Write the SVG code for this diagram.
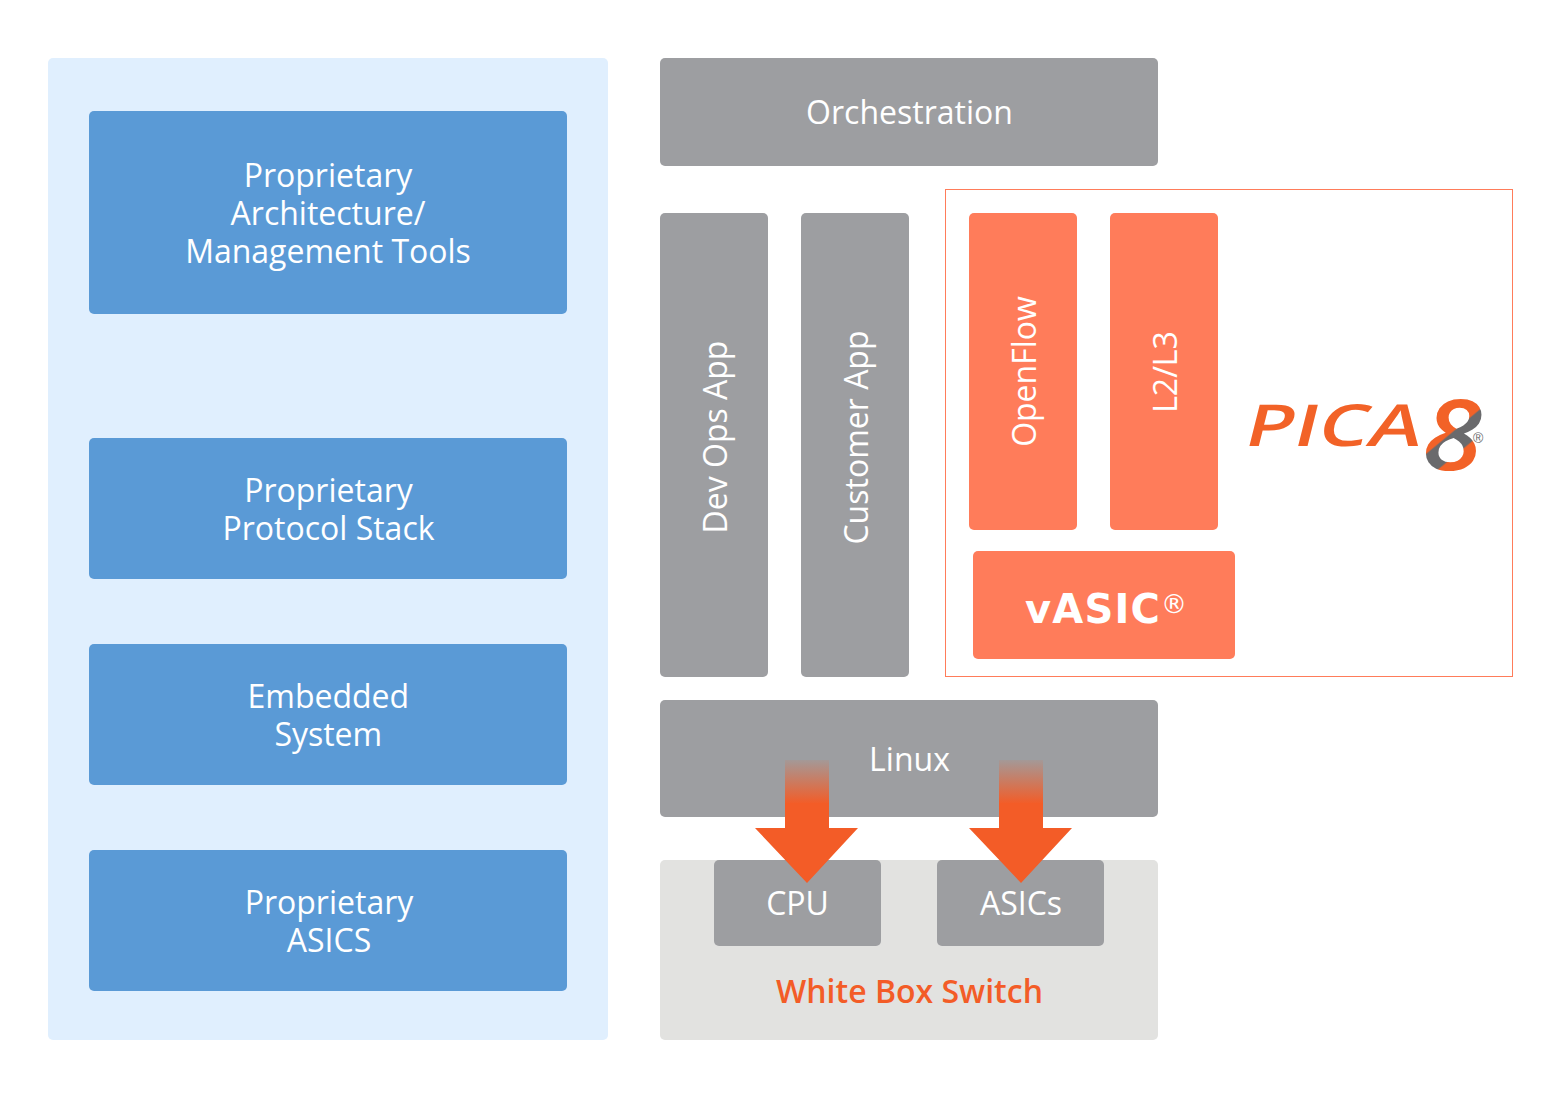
<svg xmlns="http://www.w3.org/2000/svg" width="1560" height="1099" viewBox="0 0 1560 1099">
<style>
.t{font-family:"Open Sans","Liberation Sans",sans-serif;font-size:32px;fill:#fff;text-anchor:middle}
.blue{fill:#5a9ad6}.gray{fill:#9d9ea1}.org{fill:#ff7c5a}
</style>
<defs>
<linearGradient id="fade" x1="0" y1="0" x2="0" y2="1"><stop offset="0" stop-color="#f35c27" stop-opacity="0.08"/><stop offset="1" stop-color="#f35c27"/></linearGradient>
<linearGradient id="eight" gradientUnits="userSpaceOnUse" x1="1428" y1="411" x2="1480" y2="474"><stop offset="0.38" stop-color="#f26227"/><stop offset="0.4" stop-color="#6a6a6c"/><stop offset="0.62" stop-color="#6a6a6c"/><stop offset="0.64" stop-color="#f26227"/></linearGradient>
</defs>
<rect width="1560" height="1099" fill="#fff"/>
<g id="legacy-panel"><rect x="48" y="58" width="560" height="982" rx="5" fill="#e0effe"/></g>
<g id="prop-tools"><rect class="blue" x="89" y="111" width="478" height="203" rx="5"/><text class="t" x="328" y="187">Proprietary</text><text class="t" x="328" y="225">Architecture/</text><text class="t" x="328" y="263">Management Tools</text></g>
<g id="prop-stack"><rect class="blue" x="89" y="438" width="478" height="141" rx="5"/><text class="t" x="328.5" y="502">Proprietary</text><text class="t" x="328.5" y="540">Protocol Stack</text></g>
<g id="embedded"><rect class="blue" x="89" y="644" width="478" height="141" rx="5"/><text class="t" x="328.3" y="708">Embedded</text><text class="t" x="328.3" y="746">System</text></g>
<g id="prop-asics"><rect class="blue" x="89" y="850" width="478" height="141" rx="5"/><text class="t" x="329" y="914">Proprietary</text><text class="t" x="329" y="952">ASICS</text></g>
<g id="orchestration"><rect class="gray" x="660" y="58" width="498" height="108" rx="5"/><text class="t" x="909.5" y="124">Orchestration</text></g>
<g id="devops"><rect class="gray" x="660" y="213" width="108" height="464" rx="5"/><text class="t" transform="translate(727 437) rotate(-90)">Dev Ops App</text></g>
<g id="customer"><rect class="gray" x="801" y="213" width="108" height="464" rx="5"/><text class="t" transform="translate(868 437.500) rotate(-90)">Customer App</text></g>
<g id="pica8-box"><rect x="945.5" y="189.5" width="567" height="487" fill="#fff" stroke="#ff7c5a"/></g>
<g id="openflow"><rect class="org" x="969" y="213" width="108" height="317" rx="5"/><text class="t" transform="translate(1035.500 371.500) rotate(-90)">OpenFlow</text></g>
<g id="l2l3"><rect class="org" x="1110" y="213" width="108" height="317" rx="5"/><text class="t" transform="translate(1176.500 372) rotate(-90)">L2/L3</text></g>
<g id="vasic"><rect class="org" x="973" y="551" width="262" height="108" rx="5"/><text x="1025" y="623" font-family="'DejaVu Sans',sans-serif" font-weight="700" font-size="40" letter-spacing="1.200" fill="#fff">vASIC<tspan font-size="26" font-weight="400" letter-spacing="0" dy="-10">®</tspan></text></g>
<g id="logo">
<text transform="translate(1249 446) skewX(-14)" x="-7" font-family="'Open Sans',sans-serif" font-weight="600" font-size="58" fill="#f26227" textLength="176" lengthAdjust="spacingAndGlyphs">PICA</text>
<text x="1422" y="470" font-family="'Open Sans',sans-serif" font-weight="600" font-style="italic" font-size="98" fill="url(#eight)" textLength="60" lengthAdjust="spacingAndGlyphs">8</text>
<text x="1473" y="443" font-family="'Liberation Sans',sans-serif" font-size="14" fill="#6a6a6c">®</text>
</g>
<g id="linux"><rect class="gray" x="660" y="700" width="498" height="117" rx="5"/><text class="t" x="909.5" y="771">Linux</text></g>
<g id="whitebox"><rect x="660" y="860" width="498" height="180" rx="5" fill="#e2e2e0"/><text x="909.5" y="1003" font-family="'Open Sans',sans-serif" font-weight="600" font-size="32" fill="#f35c27" text-anchor="middle">White Box Switch</text></g>
<g id="cpu"><rect class="gray" x="714" y="860" width="167" height="86" rx="5"/><text class="t" x="797.500" y="915">CPU</text></g>
<g id="asics"><rect class="gray" x="937" y="860" width="167" height="86" rx="5"/><text class="t" x="1021" y="915">ASICs</text></g>
<g id="connectors">
<rect x="785" y="760" width="44" height="44" fill="url(#fade)"/><polygon points="785,803 829,803 829,828 858,828 807,883 755,828 785,828" fill="#f35c27"/>
<rect x="999" y="760" width="44" height="44" fill="url(#fade)"/><polygon points="999,803 1043,803 1043,828 1072,828 1021,883 969,828 999,828" fill="#f35c27"/>
</g>
</svg>
